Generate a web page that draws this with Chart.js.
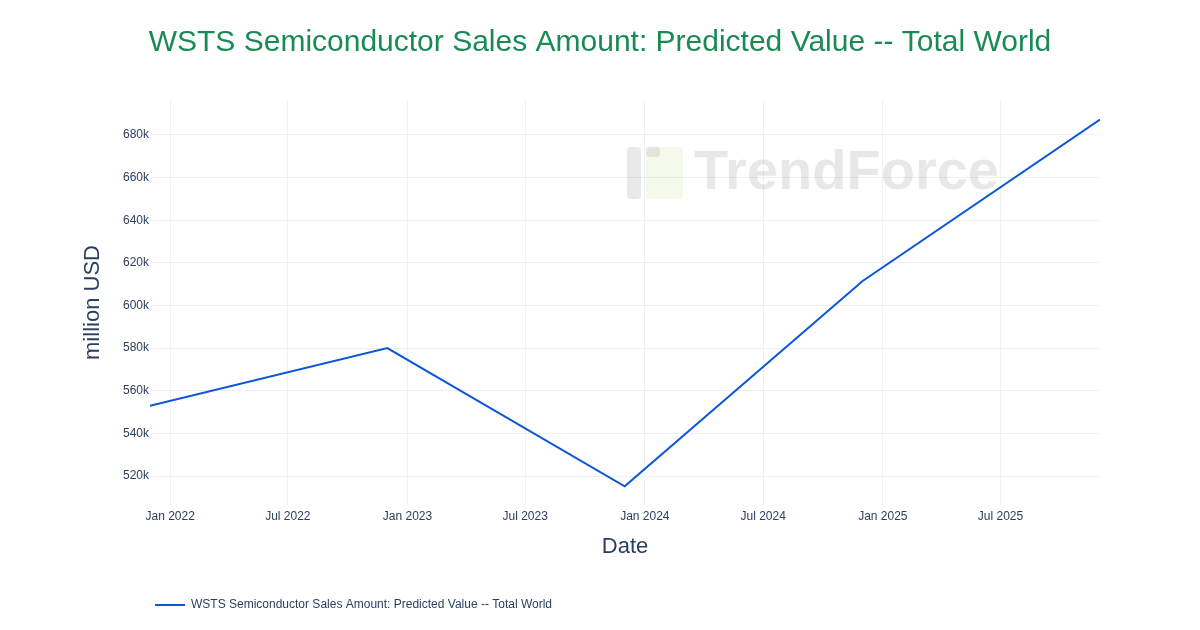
<!DOCTYPE html>
<html>
<head>
<meta charset="utf-8">
<script src="https://cdn.jsdelivr.net/npm/chart.js@4.4.1/dist/chart.umd.min.js"></script>
<style>
  html, body { margin: 0; padding: 0; background: #ffffff; }
  #wrap { width: 1200px; height: 630px; }
</style>
</head>
<body>
<div id="wrap"><canvas id="c" width="1200" height="630"></canvas></div>
<script>
// ---- data ----
const chartTitle = 'WSTS Semiconductor Sales Amount: Predicted Value -- Total World';
const seriesName = 'WSTS Semiconductor Sales Amount: Predicted Value -- Total World';
const dates = ['2021-12-01', '2022-12-01', '2023-12-01', '2024-12-01', '2025-12-01'];
const values = [553000, 580000, 515200, 611500, 687200];
const xTickDates = ['2022-01-01', '2022-07-01', '2023-01-01', '2023-07-01', '2024-01-01', '2024-07-01', '2025-01-01', '2025-07-01'];
const xTickLabels = ['Jan 2022', 'Jul 2022', 'Jan 2023', 'Jul 2023', 'Jan 2024', 'Jul 2024', 'Jan 2025', 'Jul 2025'];
const yTickValues = [520000, 540000, 560000, 580000, 600000, 620000, 640000, 660000, 680000];
const yTickLabels = ['520k', '540k', '560k', '580k', '600k', '620k', '640k', '660k', '680k'];
const yMin = 506400, yMax = 696400;
const xAxisTitle = 'Date';
const yAxisTitle = 'million USD';
const watermark = 'TrendForce';

const toTs = d => Date.parse(d + 'T00:00:00Z');
const points = dates.map((d, i) => ({ x: toTs(d), y: values[i] }));
const xTickTs = xTickDates.map(toTs);

const FONT = 'Arial, "Liberation Sans", Helvetica, sans-serif';
const AXIS_COLOR = '#2a3f5f';
const GRID = '#eef0f2';

const layoutFix = {
  id: 'layoutFix',
  afterLayout(chart) {
    const t = chart.titleBlock;
    if (t) { t.left = 0; t.right = 1200; t.width = 1200; }
    const lg = chart.legend;
    if (lg) {
      const h = lg.height;
      lg.left = 145; lg.top = 589; lg.bottom = lg.top + h;
    }
  }
};

const watermarkPlugin = {
  id: 'watermarkPlugin',
  beforeDatasetsDraw(chart) {
    const ctx = chart.ctx;
    ctx.save();
    ctx.fillStyle = 'rgba(0,0,0,0.085)';
    ctx.beginPath();
    ctx.roundRect(627, 147, 14, 52, 4);
    ctx.fill();
    ctx.beginPath();
    ctx.roundRect(646, 147, 14, 10, 3);
    ctx.fill();
    ctx.fillStyle = 'rgba(150,200,60,0.10)';
    ctx.beginPath();
    ctx.roundRect(646, 147, 37, 52, 4);
    ctx.fill();
    ctx.fillStyle = 'rgba(0,0,0,0.09)';
    ctx.font = 'bold 56px Arial, "Liberation Sans", sans-serif';
    ctx.textBaseline = 'middle';
    ctx.textAlign = 'left';
    ctx.fillText(watermark, 694, 174);
    ctx.restore();
  }
};

new Chart(document.getElementById('c'), {
  type: 'line',
  data: {
    datasets: [{
      label: seriesName,
      data: points,
      borderColor: '#0a55d8',
      backgroundColor: '#0a55d8',
      borderWidth: 2,
      pointRadius: 0,
      pointHoverRadius: 0,
      tension: 0,
      fill: false
    }]
  },
  options: {
    responsive: false,
    animation: false,
    devicePixelRatio: 1,
    layout: { padding: { left: 0, right: 100, top: 0, bottom: 38 } },
    plugins: {
      title: {
        display: true,
        text: chartTitle,
        color: '#1a8a55',
        font: { family: FONT, size: 30, weight: 'normal', lineHeight: 1.2 },
        padding: { top: 25, bottom: 39 }
      },
      legend: {
        display: true,
        position: 'bottom',
        align: 'start',
        labels: {
          color: AXIS_COLOR,
          font: { family: FONT, size: 12 },
          usePointStyle: true,
          pointStyle: 'line',
          pointStyleWidth: 30,
          boxHeight: 12,
          padding: 10
        }
      },
      tooltip: { enabled: false }
    },
    scales: {
      x: {
        type: 'linear',
        min: points[0].x,
        max: points[points.length - 1].x,
        afterBuildTicks(scale) { scale.ticks = xTickTs.map(v => ({ value: v })); },
        afterFit(scale) { scale.height = 55; },
        ticks: {
          autoSkip: false,
          maxRotation: 0,
          padding: 4,
          color: AXIS_COLOR,
          font: { family: FONT, size: 12 },
          callback(value) {
            const i = xTickTs.indexOf(value);
            return i >= 0 ? xTickLabels[i] : '';
          }
        },
        grid: { color: GRID, lineWidth: 1, drawTicks: false },
        border: { display: false },
        title: {
          display: true,
          text: xAxisTitle,
          color: AXIS_COLOR,
          font: { family: FONT, size: 22, lineHeight: 1.2 },
          padding: { top: 0, bottom: 0 }
        }
      },
      y: {
        type: 'linear',
        min: yMin,
        max: yMax,
        afterBuildTicks(scale) { scale.ticks = yTickValues.map(v => ({ value: v })); },
        afterFit(scale) { scale.width = 150; },
        ticks: {
          padding: 1,
          color: AXIS_COLOR,
          font: { family: FONT, size: 12 },
          callback(value) {
            const i = yTickValues.indexOf(value);
            return i >= 0 ? yTickLabels[i] : '';
          }
        },
        grid: { color: GRID, lineWidth: 1, drawTicks: false },
        border: { display: false },
        title: {
          display: true,
          text: yAxisTitle,
          color: AXIS_COLOR,
          font: { family: FONT, size: 22, lineHeight: 1.2 },
          padding: { top: 80, bottom: 0 }
        }
      }
    }
  },
  plugins: [layoutFix, watermarkPlugin]
});
</script>
</body>
</html>
